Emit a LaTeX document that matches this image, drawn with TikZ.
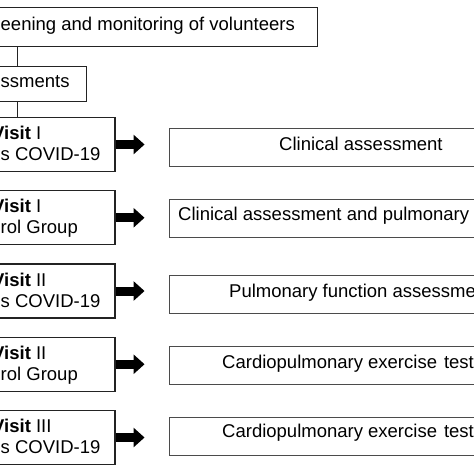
\documentclass[tikz,border=0pt]{standalone}
\usepackage{fontspec}
\setmainfont{Liberation Sans}
\usetikzlibrary{arrows.meta, positioning, calc}
\definecolor{boxline}{RGB}{35, 35, 35}
\definecolor{taskline}{RGB}{75, 75, 75}

\begin{document}
\begin{tikzpicture}[x=1pt, y=-1pt,
    frame/.style={rectangle, draw=boxline, line width=1pt, inner sep=0pt},
    visit/.style={frame, line width=1.1pt, minimum width=215pt, minimum height=54pt},
    task/.style={rectangle, draw=taskline, line width=0.9pt, inner sep=0pt,
                 minimum width=320pt, minimum height=38pt},
    txt/.style={anchor=base west, inner sep=0pt, font=\fontsize{18.5}{21}\selectfont},
    go/.style={line width=9pt, -{Triangle[length=11pt, width=19pt]}, shorten >=24pt}]

    % Frame
    \useasboundingbox (0,0) rectangle (474,474);
    \fill[white] (0,0) rectangle (474,474);
    \clip (0,0) rectangle (474,474);

    % Top boxes
    \node[frame, minimum width=517pt, minimum height=39pt] (scr) at (58.5, 26.5) {};
    \node[txt] (scrtxt) at (0.5, 30.5) {eening and monitoring of volunteers};
    \node[frame, minimum width=186pt, minimum height=35pt] (ass) at (-7, 83.5) {};
    \node[txt] (asstxt) at (0.5, 87.5) {ssments};
    \coordinate (spine) at (17, 0);

    % Visits
    \foreach \i/\y/\num/\who in {1/144.5/I/s COVID-19, 2/217.75/I/rol Group,
                                 3/291/II/s COVID-19, 4/364.25/II/rol Group,
                                 5/437.5/III/s COVID-19} {
        \node[visit] (v\i) at (7.5, \y) {};
        \node[txt] (vt\i) at (-8, \y-5) {\textbf{Visit} \num};
        \node[txt] (vw\i) at (0.5, \y+16) {\who};
    }

    % Assessments
    \node[task] (t1) at (329, 147) {};
    \node[txt] (tt1) at (279, 150.7) {Clinical assessment};
    \node[task] (t2) at (329, 218) {};
    \node[txt] (tt2) at (178, 220.7) {Clinical assessment and pulmonary};
    \node[task] (t3) at (329, 294.5) {};
    \node[txt] (tt3) at (229, 297) {Pulmonary function assessment};
    \node[task] (t4) at (329, 365) {};
    \node[txt] (tt4) at (222, 368) {Cardiopulmonary exercise\hspace{7pt}test};
    \node[task] (t5) at (329, 436) {};
    \node[txt] (tt5) at (222, 437) {Cardiopulmonary exercise\hspace{7pt}test};

    % Connections
    \draw[boxline, line width=0.9pt] (scr.south -| spine) -- (ass.north -| spine);
    \draw[boxline, line width=0.9pt] (ass.south -| spine) -- (v1.north -| spine);
    \foreach \i in {1,...,5} {
        \draw[go] (v\i.east) -- (v\i.east -| t\i.west);
    }
\end{tikzpicture}
\end{document}
